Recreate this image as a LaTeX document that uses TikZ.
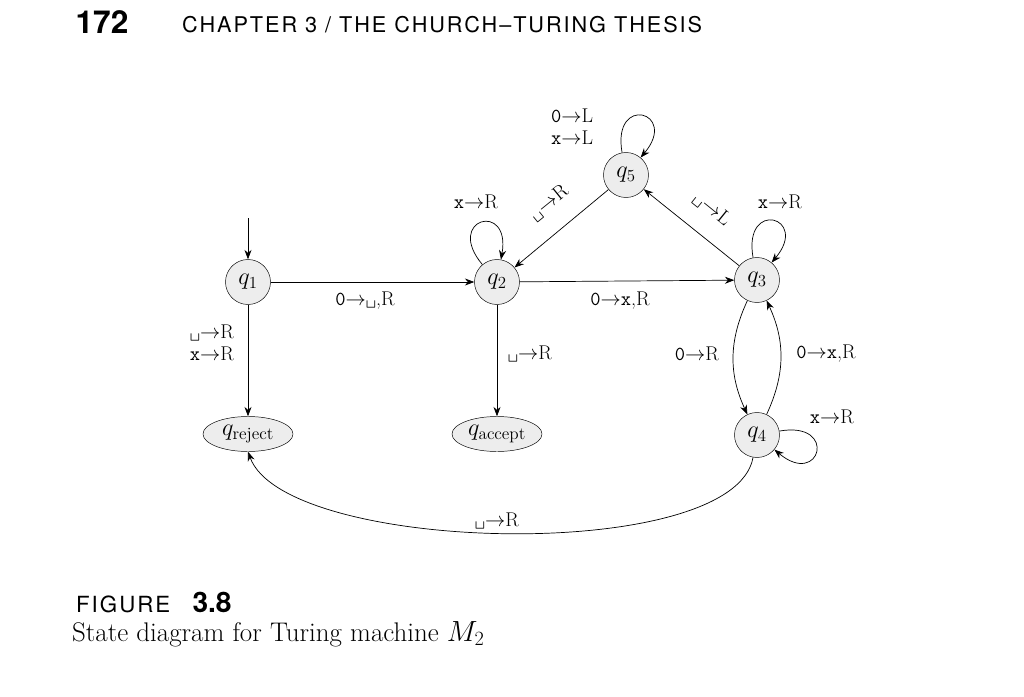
\documentclass[tikz,border=0pt]{standalone}
\usepackage{fontspec}
\newfontfamily\hsans{TeX Gyre Heros}
\newfontfamily\hsanswide[LetterSpace=9]{TeX Gyre Heros}
\usetikzlibrary{arrows.meta,shapes.geometric}
\begin{document}
\begin{tikzpicture}[x=0.03cm,y=-0.03cm,
 st/.style={circle,draw,fill=black!7,minimum size=1.35cm,inner sep=0pt,font=\fontsize{21}{23}\selectfont},
 est/.style={ellipse,draw,fill=black!7,minimum width=2.7cm,minimum height=1.05cm,inner sep=0pt,font=\fontsize{21}{23}\selectfont},
 ed/.style={-{Stealth[length=8pt]},semithick},
 lb/.style={font=\fontsize{17}{19}\selectfont,inner sep=1pt}]
\useasboundingbox (0,0) rectangle (1024,697);
\newcommand\ar{$\rightarrow$}
\newcommand\vs{\texttt{␣}}
\node[font=\hsans\bfseries\fontsize{27}{29}\selectfont] (pg) at (102,22) {172};
\node[font=\hsanswide\fontsize{18.5}{20}\selectfont,anchor=west] (ch) at (178,25) {CHAPTER 3 / THE CHURCH\textendash TURING THESIS};
\node (q1) [st] at (248,282) {$q_1$};
\node (q2) [st] at (497,282) {$q_2$};
\node (q3) [st] at (757,280) {$q_3$};
\node (q5) [st] at (626,175) {$q_5$};
\node (q4) [st] at (757,435) {$q_4$};
\node (qr) [est] at (248,434) {$q_{\mathrm{reject}}$};
\node (qa) [est] at (497,434) {$q_{\mathrm{accept}}$};
\coordinate (s) at (248,218);
\draw[ed] (s) -- (q1);
\draw[ed] (q1) -- (q2);
\draw[ed] (q2) -- (q3);
\draw[ed] (q3) -- (q5);
\draw[ed] (q5) -- (q2);
\draw[ed] (q1) -- (qr);
\draw[ed] (q2) -- (qa);
\draw[ed] (q3) to[bend right=25] (q4);
\draw[ed] (q4) to[bend right=25] (q3);
\draw[ed] (q4) to[out=-100,in=-70,looseness=0.55] (qr.south);
\draw[ed] (q2) to[out=130,in=80,looseness=8] (q2);
\draw[ed] (q3) to[out=100,in=50,looseness=8] (q3);
\draw[ed] (q5) to[out=100,in=50,looseness=8] (q5);
\draw[ed] (q4) to[out=10,in=-40,looseness=8] (q4);
\node[lb] (l1) at (365,301) {\texttt{0}\ar\vs,R};
\node[lb] (l2) at (620,301) {\texttt{0}\ar\texttt{x},R};
\node[lb,align=left] (l3) at (212,343) {\vs\ar R\\\texttt{x}\ar R};
\node[lb] (l4) at (530,354) {\vs\ar R};
\node[lb] (l5) at (697,354) {\texttt{0}\ar R};
\node[lb] (l6) at (826,354) {\texttt{0}\ar\texttt{x},R};
\node[lb] (l7) at (832,417) {\texttt{x}\ar R};
\node[lb] (l8) at (497,521) {\vs\ar R};
\node[lb] (l9) at (476,202) {\texttt{x}\ar R};
\node[lb] (l10) at (780,202) {\texttt{x}\ar R};
\node[lb,align=left] (l11) at (572,127) {\texttt{0}\ar L\\\texttt{x}\ar L};
\node[lb,rotate=39] (l12) at (549,203) {\vs\ar R};
\node[lb,rotate=-39] (l13) at (712,209) {\vs\ar L};
\node[anchor=west,font=\hsanswide\fontsize{19}{21}\selectfont] (f1) at (72,603) {FIGURE\quad\hsans\fontsize{24}{26}\selectfont\bfseries 3.8};
\node[anchor=west,font=\fontsize{23}{25}\selectfont] (f2) at (68,634) {State diagram for Turing machine $M_2$};
\end{tikzpicture}
\end{document}
